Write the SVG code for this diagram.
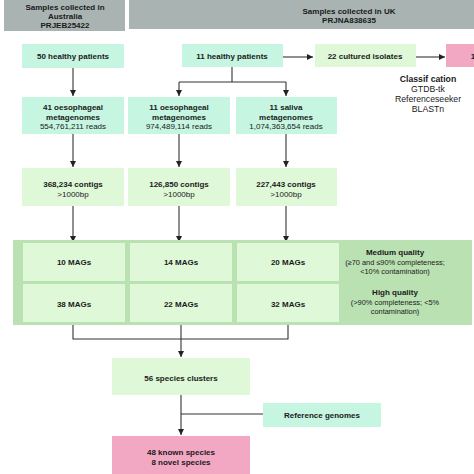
<svg xmlns="http://www.w3.org/2000/svg" width="474" height="474" viewBox="0 0 474 474">
<defs>
<marker id="ah" viewBox="0 0 10 10" refX="10" refY="5" markerWidth="6" markerHeight="6" markerUnits="userSpaceOnUse" orient="auto">
<path d="M0,0 L10,5 L0,10 Z" fill="#222"/>
</marker>
<style>
text{font-family:"Liberation Sans",Arial,sans-serif;font-size:8px;fill:#1a1a1a;text-anchor:middle}
.b{font-weight:bold}
.s{font-size:7.4px}
.c{font-size:8.7px}
.hdr{fill:#a9b4b2}
.cy{fill:#c6f5e2}
.gr{fill:#dff8d8}
.pk{fill:#f2a8c3}
.pan{fill:#bae1b2}
.ln{stroke:#333;stroke-width:1.1;fill:none}
.ar{stroke:#333;stroke-width:1.1;fill:none;marker-end:url(#ah)}
</style>
</defs>
<rect width="474" height="474" fill="#fff"/>
<g id="hdr-au"><rect class="hdr" x="4" y="0" width="121" height="31"/>
<text class="b" x="65" y="10">Samples collected in</text><text class="b" x="65" y="18.5">Australia</text><text class="b" x="65" y="27.5">PRJEB25422</text></g>
<g id="hdr-uk"><rect class="hdr" x="129" y="0" width="345" height="29"/>
<text class="b" x="349" y="14">Samples collected in UK</text><text class="b" x="349" y="23">PRJNA838635</text></g>

<g id="connectors">
<path class="ar" d="M73,68 V96"/>
<path class="ln" d="M232,67 V82 M179,82 H286"/>
<path class="ar" d="M179,82 V96"/>
<path class="ar" d="M286,82 V96"/>
<path class="ar" d="M283,57 H313"/>
<path class="ar" d="M416,57 H445"/>
<path class="ar" d="M73,134 V167"/>
<path class="ar" d="M179,134 V167"/>
<path class="ar" d="M286,134 V167"/>
<path class="ar" d="M73,206 V242"/>
<path class="ar" d="M179,206 V242"/>
<path class="ar" d="M286,206 V242"/>
<path class="ln" d="M73,322 V339 H288 V322 M181,322 V339"/>
<path class="ar" d="M181,339 V357"/>
<path class="ar" d="M181,395 V435"/>
<path class="ln" d="M263,414 H181"/>
</g>

<g id="n50"><rect class="cy" x="22" y="44" width="102" height="24"/><text class="b" x="73" y="59">50 healthy patients</text></g>
<g id="n11"><rect class="cy" x="182" y="44" width="101" height="23"/><text class="b" x="232" y="59">11 healthy patients</text></g>
<g id="n22"><rect class="gr" x="315" y="44" width="101" height="23"/><text class="b" x="365" y="59">22 cultured isolates</text></g>
<g id="npk"><rect class="pk" x="446" y="44" width="30" height="23"/><text class="b" x="473" y="59">1</text></g>
<g id="classif"><text class="b c" x="428" y="82">Classif cation</text><text class="c" x="428" y="92">GTDB-tk</text><text class="c" x="428" y="102">Referenceseeker</text><text class="c" x="428" y="112">BLASTn</text></g>

<g id="m41"><rect class="cy" x="22" y="97" width="102" height="37"/><text class="b" x="73" y="110">41 oesophageal</text><text class="b" x="73" y="119.5">metagenomes</text><text x="73" y="129">554,761,211 reads</text></g>
<g id="m11o"><rect class="cy" x="128" y="97" width="102" height="37"/><text class="b" x="179" y="110">11 oesophageal</text><text class="b" x="179" y="119.5">metagenomes</text><text x="179" y="129">974,489,114  reads</text></g>
<g id="m11s"><rect class="cy" x="236" y="97" width="101" height="37"/><text class="b" x="286" y="110">11 saliva</text><text class="b" x="286" y="119.5">metagenomes</text><text x="286" y="129">1,074,363,654 reads</text></g>

<g id="c1"><rect class="gr" x="22" y="168" width="102" height="38"/><text class="b" x="73" y="187">368,234 contigs</text><text x="73" y="197">&gt;1000bp</text></g>
<g id="c2"><rect class="gr" x="128" y="168" width="102" height="38"/><text class="b" x="179" y="187">126,850 contigs</text><text x="179" y="197">&gt;1000bp</text></g>
<g id="c3"><rect class="gr" x="236" y="168" width="101" height="38"/><text class="b" x="286" y="187">227,443 contigs</text><text x="286" y="197">&gt;1000bp</text></g>

<g id="mags">
<rect class="pan" x="13" y="240" width="459" height="85"/>
<rect class="gr" x="23" y="243" width="102" height="38"/><text class="b" x="74" y="265">10 MAGs</text>
<rect class="gr" x="130" y="243" width="102" height="38"/><text class="b" x="181" y="265">14 MAGs</text>
<rect class="gr" x="237" y="243" width="102" height="38"/><text class="b" x="288" y="265">20 MAGs</text>
<rect class="gr" x="23" y="284" width="102" height="38"/><text class="b" x="74" y="307">38 MAGs</text>
<rect class="gr" x="130" y="284" width="102" height="38"/><text class="b" x="181" y="307">22 MAGs</text>
<rect class="gr" x="237" y="284" width="102" height="38"/><text class="b" x="288" y="307">32 MAGs</text>
<text class="b" x="395" y="255">Medium quality</text>
<text class="s" x="395" y="264.5">(≥70 and ≤90% completeness;</text>
<text class="s" x="395" y="273.5">&lt;10% contamination)</text>
<text class="b" x="395" y="295">High quality</text>
<text class="s" x="395" y="304.5">(&gt;90% completeness; &lt;5%</text>
<text class="s" x="395" y="313.5">contamination)</text>
</g>

<g id="species"><rect class="gr" x="112" y="358" width="138" height="37"/><text class="b" x="181" y="381">56 species clusters</text></g>
<g id="ref"><rect class="cy" x="263" y="403" width="118" height="24"/><text class="b" x="322" y="418">Reference genomes</text></g>
<g id="result"><rect class="pk" x="112" y="436" width="138" height="40"/><text class="b" x="181" y="455">48 known species</text><text class="b" x="181" y="465">8 novel species</text></g>
</svg>
